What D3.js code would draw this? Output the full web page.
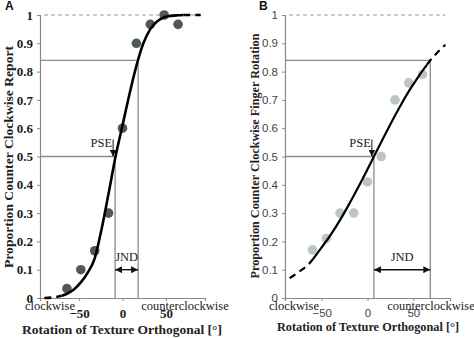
<!DOCTYPE html>
<html>
<head>
<meta charset="utf-8">
<script src="https://cdn.jsdelivr.net/npm/d3@7"></script>
<style>
  html, body { margin: 0; padding: 0; background: #fff; }
  svg { display: block; }
</style>
</head>
<body>
<svg id="chart" width="474" height="338"></svg>
<script>
// Panel A: perceptual report; Panel B: finger rotation
const anglesA = [-64, -48, -32, -16, 0, 16, 32, 48, 64];
const propA   = [0.033, 0.10, 0.167, 0.30, 0.60, 0.90, 0.967, 1.0, 0.967];
const anglesB = [-60, -45, -30, -15, 0, 15, 30, 45, 60];
const propB   = [0.17, 0.21, 0.30, 0.30, 0.41, 0.50, 0.70, 0.76, 0.79];

// Fitted psychometric curves (sampled)
const fitAngleA = [-90, -80, -70, -64, -56, -48, -40, -32, -24, -16, -8, 0, 8, 16, 24, 32, 40, 48, 56, 64, 70, 80, 90];
const fitPropA  = [0.0, 0.002, 0.008, 0.015, 0.03, 0.055, 0.09, 0.14, 0.245, 0.37, 0.5, 0.61, 0.72, 0.82, 0.9, 0.95, 0.978, 0.992, 0.997, 0.999, 1.0, 1.0, 1.0];
const fitAngleB = [-85, -75, -64, -60, -50, -40, -30, -20, -10, 0, 7, 15, 25, 35, 45, 55, 65, 68.5, 77, 85];
const fitPropB  = [0.07, 0.092, 0.12, 0.135, 0.179, 0.224, 0.275, 0.332, 0.392, 0.455, 0.5, 0.551, 0.614, 0.674, 0.73, 0.78, 0.825, 0.84, 0.87, 0.895];

// Solid part of each fit; outside it the curve is dashed
const solidA = [-70, 70];
const solidB = [-60, 65];

// Threshold markers
const pseA = -8.5, jndEdgeA = 18;
const pseB = 7,    jndEdgeB = 68.5;
const criterion = 0.84, halfLevel = 0.5, jndArrowLevel = 0.1;

const yTicks = [0, 0.1, 0.2, 0.3, 0.4, 0.5, 0.6, 0.7, 0.8, 0.9, 1];
const xTicks = [-50, 0, 50];

const serif = "'Liberation Serif', 'Times New Roman', serif";
const sans = "'Liberation Sans', Arial, sans-serif";

const svg = d3.select("#chart");

// arrowhead markers
const defs = svg.append("defs");
function marker(id, path) {
  defs.append("marker").attr("id", id)
    .attr("viewBox", "0 0 10 10").attr("refX", 10).attr("refY", 5)
    .attr("markerWidth", 7).attr("markerHeight", 7)
    .attr("markerUnits", "userSpaceOnUse")
    .attr("orient", "auto-start-reverse")
    .append("path").attr("d", path).attr("fill", "#111");
}
marker("head", "M0,0 L10,5 L0,10 Z");

function panel(cfg) {
  const x = d3.scaleLinear().domain(cfg.xDomain).range(cfg.xRange);
  const y = d3.scaleLinear().domain([0, 1]).range([298, 15]);
  const g = svg.append("g");
  const x0 = cfg.xRange[0];

  // reference line at 1
  g.append("line")
    .attr("x1", x0 + 4).attr("x2", x(cfg.topDashEnd))
    .attr("y1", y(1)).attr("y2", y(1))
    .attr("stroke", "#999").attr("stroke-width", 1)
    .attr("stroke-dasharray", "4,3");

  // threshold guide lines
  const gl = g.append("g").attr("stroke", "#8a8a8a").attr("stroke-width", 1.3).attr("fill", "none");
  gl.append("line").attr("x1", x0).attr("x2", x(cfg.jnd)).attr("y1", y(criterion)).attr("y2", y(criterion));
  gl.append("line").attr("x1", x(cfg.jnd)).attr("x2", x(cfg.jnd)).attr("y1", y(criterion)).attr("y2", y(0));
  gl.append("line").attr("x1", x0).attr("x2", x(cfg.pse)).attr("y1", y(halfLevel)).attr("y2", y(halfLevel));
  gl.append("line").attr("x1", x(cfg.pse)).attr("x2", x(cfg.pse)).attr("y1", y(halfLevel)).attr("y2", y(0));

  // axes
  const yAxis = d3.axisLeft(y).tickValues(yTicks).tickSize(3).tickPadding(4)
    .tickFormat(d => (d === 0 || d === 1) ? String(d) : d3.format(".1f")(d));
  const ya = g.append("g").attr("transform", `translate(${x0},0)`).call(yAxis);
  const xAxis = d3.axisBottom(x).tickValues(xTicks).tickSize(3).tickPadding(cfg.xTickPad)
    .tickFormat(d3.format("d"));
  const xa = g.append("g").attr("transform", `translate(0,${y(0)})`).call(xAxis);
  [ya, xa].forEach(a => {
    a.select(".domain").attr("stroke", "#8a8a8a").attr("stroke-width", 1.2);
    a.selectAll(".tick line").attr("stroke", "#8a8a8a");
    a.selectAll("text").attr("font-family", cfg.tickFont).attr("font-size", cfg.tickSize)
      .attr("font-weight", cfg.tickWeight).attr("fill", cfg.tickColor);
  });

  // direction words
  g.append("text").attr("x", cfg.cwX).attr("y", 310).attr("text-anchor", "middle")
    .attr("font-family", serif).attr("font-size", 12.5).attr("fill", "#222").text("clockwise");
  g.append("text").attr("x", cfg.ccwX).attr("y", 310).attr("text-anchor", "middle")
    .attr("font-family", serif).attr("font-size", 12.5).attr("fill", "#222").text("counterclockwise");

  // data points
  g.append("g").selectAll("circle").data(cfg.angles.map((a, i) => [a, cfg.props[i]]))
    .join("circle").attr("cx", d => x(d[0])).attr("cy", d => y(d[1])).attr("r", 4.8)
    .attr("fill", cfg.dotColor);

  // fitted curve
  const pts = cfg.fitX.map((a, i) => [a, cfg.fitY[i]]);
  const line = d3.line().x(d => x(d[0])).y(d => y(d[1])).curve(d3.curveMonotoneX);
  const segs = [
    { p: pts.filter(d => d[0] <= cfg.solid[0]), dash: "7,5" },
    { p: pts.filter(d => d[0] >= cfg.solid[0] && d[0] <= cfg.solid[1]), dash: null },
    { p: pts.filter(d => d[0] >= cfg.solid[1]), dash: "7,5" }
  ];
  segs.forEach(s => {
    g.append("path").attr("d", line(s.p)).attr("fill", "none").attr("stroke", "#000")
      .attr("stroke-width", cfg.curveWidth).attr("stroke-dasharray", s.dash);
  });

  // PSE annotation
  const px = x(cfg.pse) - 2;
  g.append("line").attr("x1", px).attr("x2", px).attr("y1", y(halfLevel) - 17).attr("y2", y(halfLevel))
    .attr("stroke", "#111").attr("stroke-width", 1).attr("marker-end", "url(#head)");
  g.append("text").attr("x", px - 1).attr("y", y(halfLevel) - 10).attr("text-anchor", "end")
    .attr("font-family", serif).attr("font-size", 12.5).attr("fill", "#222").text("PSE");

  // JND annotation
  g.append("line").attr("x1", x(cfg.pse)).attr("x2", x(cfg.jnd))
    .attr("y1", y(jndArrowLevel)).attr("y2", y(jndArrowLevel))
    .attr("stroke", "#111").attr("stroke-width", 1.4)
    .attr("marker-start", "url(#head)").attr("marker-end", "url(#head)");
  g.append("text").attr("x", (x(cfg.pse) + x(cfg.jnd)) / 2).attr("y", y(jndArrowLevel) - 8.5)
    .attr("text-anchor", "middle").attr("font-family", serif).attr("font-size", 12.5)
    .attr("fill", "#222").text("JND");

  // axis titles
  g.append("text").attr("x", cfg.xTitleX).attr("y", cfg.xTitleY).attr("text-anchor", "middle")
    .attr("font-family", serif).attr("font-weight", "bold").attr("font-size", cfg.xTitleSize)
    .attr("fill", "#222").attr("textLength", cfg.xTitleLen).attr("lengthAdjust", "spacingAndGlyphs")
    .text("Rotation of Texture Orthogonal [°]");
  g.append("text").attr("transform", `translate(${cfg.yTitleX},${cfg.yTitleY}) rotate(-90)`)
    .attr("text-anchor", "middle").attr("font-family", serif).attr("font-weight", "bold")
    .attr("font-size", cfg.yTitleSize).attr("fill", "#222")
    .attr("textLength", cfg.yTitleLen).attr("lengthAdjust", "spacingAndGlyphs")
    .text(cfg.yTitle);

  // panel letter
  g.append("text").attr("x", cfg.letterX).attr("y", 10).attr("font-family", sans)
    .attr("font-weight", "bold").attr("font-size", 12).attr("fill", "#111").text(cfg.letter);
}

panel({
  letter: "A", letterX: 5,
  xDomain: [-95, 95], xRange: [40, 205], topDashEnd: 90,
  angles: anglesA, props: propA, dotColor: "#4e5a58",
  fitX: fitAngleA, fitY: fitPropA, solid: solidA, curveWidth: 2.6,
  pse: pseA, jnd: jndEdgeA,
  tickFont: serif, tickSize: 13, tickWeight: "bold", tickColor: "#1a1a1a", xTickPad: 8,
  cwX: 50, ccwX: 185,
  xTitleX: 122, xTitleY: 334, xTitleSize: 13.5, xTitleLen: 200,
  yTitleX: 13, yTitleY: 157, yTitleSize: 13.5, yTitleLen: 222,
  yTitle: "Proportion Counter Clockwise Report"
});

panel({
  letter: "B", letterX: 259,
  xDomain: [-90, 90], xRange: [285, 450], topDashEnd: 85,
  angles: anglesB, props: propB, dotColor: "#bbc7c0",
  fitX: fitAngleB, fitY: fitPropB, solid: solidB, curveWidth: 2.2,
  pse: pseB, jnd: jndEdgeB,
  tickFont: sans, tickSize: 11.5, tickWeight: "normal", tickColor: "#444", xTickPad: 8,
  cwX: 294, ccwX: 431,
  xTitleX: 368, xTitleY: 331, xTitleSize: 12.5, xTitleLen: 182,
  yTitleX: 259, yTitleY: 156, yTitleSize: 12.5, yTitleLen: 245,
  yTitle: "Proportion Counter Clockwise Finger Rotation"
});
</script>
</body>
</html>
